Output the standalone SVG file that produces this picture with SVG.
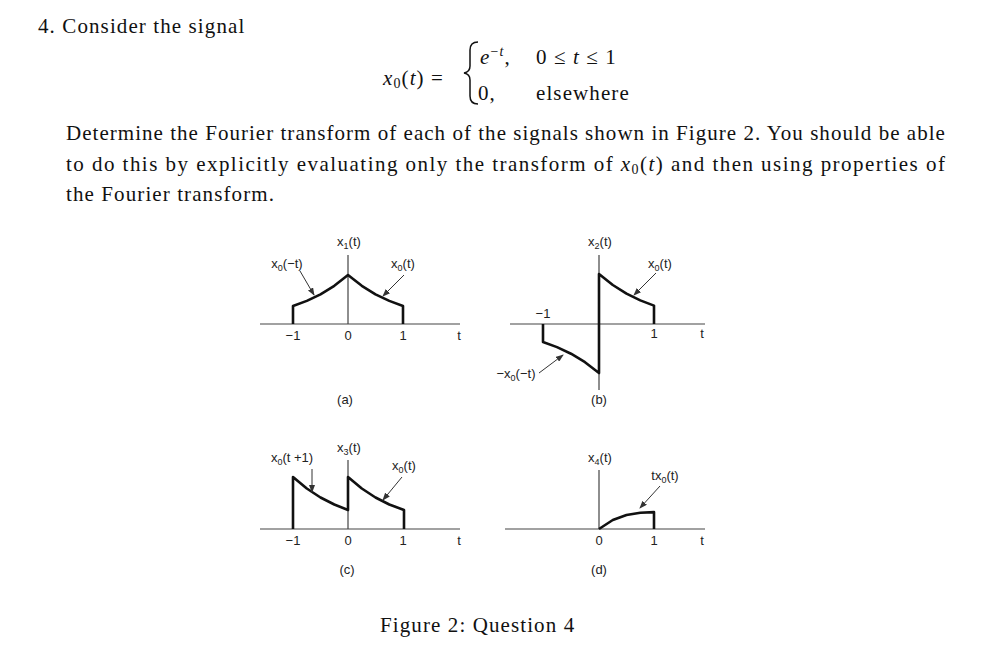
<svg xmlns="http://www.w3.org/2000/svg" width="992" height="653" viewBox="0 0 992 653">
<style>
.s{font-family:"Liberation Serif",serif;font-size:21px;fill:#111;letter-spacing:1.1px}
.i{font-style:italic}
.f{font-family:"Liberation Sans",Arial,sans-serif;font-size:13px;fill:#222}
.ax{stroke:#444;stroke-width:1.2;fill:none}
.c{stroke:#111;stroke-width:2.6;fill:none;stroke-linejoin:round}
.ar{stroke:#333;stroke-width:1;fill:none;marker-end:url(#h)}
</style>
<defs><marker id="h" markerWidth="8" markerHeight="6" refX="7" refY="3" orient="auto" markerUnits="userSpaceOnUse"><path d="M0,0L8,3L0,6z" fill="#333"/></marker></defs>
<rect width="992" height="653" fill="#fff"/>
<g id="text">
<text class="s" x="38" y="33">4. Consider the signal</text>
<text class="s" x="383" y="85"><tspan class="i">x</tspan><tspan font-size="14" dy="3">0</tspan><tspan dy="-3">(</tspan><tspan class="i">t</tspan>) =</text>
<path d="M478,42 q-8,0 -8,8 v16 q0,6 -6,7 q6,1 6,7 v16 q0,8 8,8" stroke="#111" stroke-width="1.5" fill="none"/>
<text class="s" x="480" y="64"><tspan class="i">e</tspan><tspan font-size="14" dy="-8">−<tspan class="i">t</tspan></tspan><tspan dy="8">,</tspan></text>
<text class="s" x="536" y="64">0 ≤ <tspan class="i">t</tspan> ≤ 1</text>
<text class="s" x="478" y="100">0,</text>
<text class="s" x="536" y="100">elsewhere</text>
<text class="s" x="66" y="140" textLength="880" letter-spacing="0">Determine the Fourier transform of each of the signals shown in Figure 2. You should be able</text>
<text class="s" x="66" y="171" textLength="880" letter-spacing="0">to do this by explicitly evaluating only the transform of <tspan class="i">x</tspan><tspan font-size="14" dy="3">0</tspan><tspan dy="-3">(</tspan><tspan class="i">t</tspan>) and then using properties of</text>
<text class="s" x="66" y="201">the Fourier transform.</text>
<text class="s" x="380" y="632">Figure 2: Question 4</text>
</g>
<g id="panel-a">
<path class="ax" d="M260,324H460M348,255V324"/>
<path class="c" d="M293,324V306L306.8,300.9L320.5,294.3L334.3,285.8L348,275L361.8,285.8L375.5,294.3L389.3,300.9L403,306V324"/>
<text class="f" x="349" y="246" text-anchor="middle">x<tspan font-size="9" dy="3">1</tspan><tspan dy="-3">(t)</tspan></text>
<text class="f" x="287" y="268" text-anchor="middle">x<tspan font-size="9" dy="3">0</tspan><tspan dy="-3">(−t)</tspan></text>
<text class="f" x="403" y="268" text-anchor="middle">x<tspan font-size="9" dy="3">0</tspan><tspan dy="-3">(t)</tspan></text>
<path class="ar" d="M300,271L314,295"/><path class="ar" d="M404,275L383,296"/>
<text class="f" x="293" y="340" text-anchor="middle">−1</text>
<text class="f" x="348" y="340" text-anchor="middle">0</text>
<text class="f" x="403" y="340" text-anchor="middle">1</text>
<text class="f" x="459" y="340" text-anchor="middle">t</text>
<text class="f" x="345" y="404" text-anchor="middle">(a)</text>
</g>
<g id="panel-b">
<path class="ax" d="M510,324H705M599,255V390"/>
<path class="c" d="M543,324V342L557,347.1L571,353.7L585,362.2L599,373V274L612.8,285L626.5,293.7L640.3,300.4L654,305.6V324"/>
<text class="f" x="600" y="246" text-anchor="middle">x<tspan font-size="9" dy="3">2</tspan><tspan dy="-3">(t)</tspan></text>
<text class="f" x="660" y="268" text-anchor="middle">x<tspan font-size="9" dy="3">0</tspan><tspan dy="-3">(t)</tspan></text>
<path class="ar" d="M656,273L634,295"/>
<text class="f" x="543" y="318" text-anchor="middle">−1</text>
<text class="f" x="654" y="338" text-anchor="middle">1</text>
<text class="f" x="702" y="338" text-anchor="middle">t</text>
<text class="f" x="516" y="378" text-anchor="middle">−x<tspan font-size="9" dy="3">0</tspan><tspan dy="-3">(−t)</tspan></text>
<path class="ar" d="M539,373L563,355"/>
<text class="f" x="599" y="404" text-anchor="middle">(b)</text>
</g>
<g id="panel-c">
<path class="ax" d="M260,529H460M348,460V529"/>
<path class="c" d="M293,529V477L306.8,488.5L320.5,497.5L334.3,504.5L348,510V477L361.8,488.5L375.5,497.5L389.3,504.5L404,510V529"/>
<text class="f" x="349" y="452" text-anchor="middle">x<tspan font-size="9" dy="3">3</tspan><tspan dy="-3">(t)</tspan></text>
<text class="f" x="292" y="462" text-anchor="middle">x<tspan font-size="9" dy="3">0</tspan><tspan dy="-3">(t +1)</tspan></text>
<path class="ar" d="M312,469V492"/>
<text class="f" x="404" y="470" text-anchor="middle">x<tspan font-size="9" dy="3">0</tspan><tspan dy="-3">(t)</tspan></text>
<path class="ar" d="M402,477L383,500"/>
<text class="f" x="293" y="545" text-anchor="middle">−1</text>
<text class="f" x="348" y="545" text-anchor="middle">0</text>
<text class="f" x="403" y="545" text-anchor="middle">1</text>
<text class="f" x="459" y="545" text-anchor="middle">t</text>
<text class="f" x="347" y="574" text-anchor="middle">(c)</text>
</g>
<g id="panel-d">
<path class="ax" d="M505,529H705M599,470V529"/>
<path class="c" d="M599,529L612.8,520L626.5,515L640.3,512.7L654,512.1V529"/>
<text class="f" x="600" y="462" text-anchor="middle">x<tspan font-size="9" dy="3">4</tspan><tspan dy="-3">(t)</tspan></text>
<text class="f" x="665" y="480" text-anchor="middle">tx<tspan font-size="9" dy="3">0</tspan><tspan dy="-3">(t)</tspan></text>
<path class="ar" d="M660,486L640,508"/>
<text class="f" x="599" y="545" text-anchor="middle">0</text>
<text class="f" x="654" y="545" text-anchor="middle">1</text>
<text class="f" x="702" y="545" text-anchor="middle">t</text>
<text class="f" x="599" y="574" text-anchor="middle">(d)</text>
</g>
</svg>
